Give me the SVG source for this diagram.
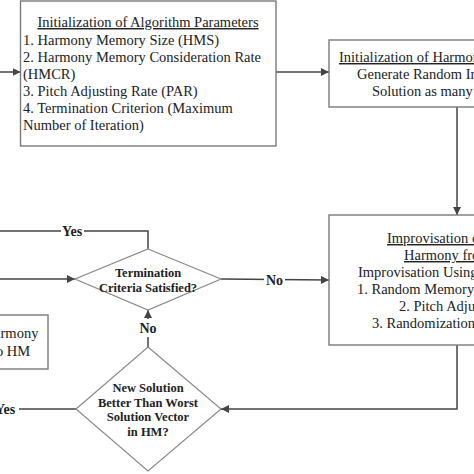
<svg xmlns="http://www.w3.org/2000/svg" width="474" height="474" viewBox="0 0 474 474">
<defs>
<marker id="arr" viewBox="0 0 10 10" refX="10" refY="5" markerWidth="8" markerHeight="8" markerUnits="userSpaceOnUse" orient="auto">
<path d="M0,0 L10,5 L0,10 z" fill="#444"/>
</marker>
<style>
.box{fill:#fff;stroke:#7a7a7a;stroke-width:1.4}
.dia{fill:#fff;stroke:#8a8a8a;stroke-width:1.2}
.con{fill:none;stroke:#444;stroke-width:1.5}
.t{font-family:"Liberation Serif",serif;font-size:14.5px;fill:#222}
.u{text-decoration:underline}
.b{font-family:"Liberation Serif",serif;font-size:12.5px;font-weight:bold;fill:#222;text-anchor:middle}
.lbl{font-family:"Liberation Serif",serif;font-size:14px;font-weight:bold;fill:#222;text-anchor:middle}
.bg{fill:#fff}
</style>
</defs>
<rect width="474" height="474" fill="#fff"/>
<g id="connectors">
<line class="con" x1="0" y1="72" x2="20.5" y2="72" marker-end="url(#arr)"/>
<line class="con" x1="276" y1="72" x2="329" y2="72" marker-end="url(#arr)"/>
<line class="con" x1="457" y1="107" x2="457" y2="215" marker-end="url(#arr)"/>
<polyline class="con" points="457,345 457,409 221,409" marker-end="url(#arr)"/>
<line class="con" x1="148" y1="347" x2="148" y2="310" marker-end="url(#arr)"/>
<line class="con" x1="76" y1="409" x2="0" y2="409"/>
<polyline class="con" points="148,249 148,231 0,231"/>
<line class="con" x1="0" y1="279" x2="75" y2="279" marker-end="url(#arr)"/>
<line class="con" x1="221" y1="279" x2="329" y2="280" marker-end="url(#arr)"/>
<rect class="bg" x="61" y="223" width="23" height="15"/>
<text class="lbl" x="72" y="236">Yes</text>
<rect class="bg" x="264" y="272" width="21" height="15"/>
<text class="lbl" x="274.5" y="285">No</text>
<rect class="bg" x="138" y="319" width="20" height="18"/>
<text class="lbl" x="148" y="333">No</text>
<rect class="bg" x="-8" y="401" width="27" height="15"/>
<text class="lbl" x="5" y="414">Yes</text>
</g>
<g id="init-params">
<rect class="box" x="20.5" y="1" width="255.5" height="145"/>
<text class="t u" x="148" y="27" text-anchor="middle">Initialization of Algorithm Parameters</text>
<text class="t" x="23" y="45">1. Harmony Memory Size (HMS)</text>
<text class="t" x="23" y="62">2. Harmony Memory Consideration Rate</text>
<text class="t" x="23" y="79">(HMCR)</text>
<text class="t" x="23" y="96">3. Pitch Adjusting Rate (PAR)</text>
<text class="t" x="23" y="113">4. Termination Criterion (Maximum</text>
<text class="t" x="23" y="130">Number of Iteration)</text>
</g>
<g id="init-hm">
<rect class="box" x="329" y="40" width="160" height="67"/>
<text class="t u" x="339" y="62">Initialization of Harmony</text>
<text class="t" x="357" y="79">Generate Random Initial</text>
<text class="t" x="372" y="96">Solution as many</text>
</g>
<g id="improvisation">
<rect class="box" x="329" y="215" width="160" height="130"/>
<text class="t u" x="387" y="243">Improvisation of</text>
<text class="t u" x="404" y="260">Harmony from</text>
<text class="t" x="358" y="277">Improvisation Using</text>
<text class="t" x="357" y="294">1. Random Memory</text>
<text class="t" x="399" y="311">2. Pitch Adjusting</text>
<text class="t" x="372" y="328">3. Randomization</text>
</g>
<g id="update-hm">
<rect class="box" x="-20" y="315" width="68" height="54"/>
<text class="t" x="11" y="338" text-anchor="middle">Harmony</text>
<text class="t" x="11" y="356" text-anchor="middle">to HM</text>
</g>
<g id="termination">
<polygon class="dia" points="148,249 221,279 148,310 75,279"/>
<text class="b" x="148" y="277">Termination</text>
<text class="b" x="148" y="292">Criteria Satisfied?</text>
</g>
<g id="better">
<polygon class="dia" points="148,347 221,409 148,471 76,409"/>
<text class="b" x="148" y="392">New Solution</text>
<text class="b" x="148" y="406.5">Better Than Worst</text>
<text class="b" x="148" y="421">Solution Vector</text>
<text class="b" x="148" y="435.5">in HM?</text>
</g>
</svg>
